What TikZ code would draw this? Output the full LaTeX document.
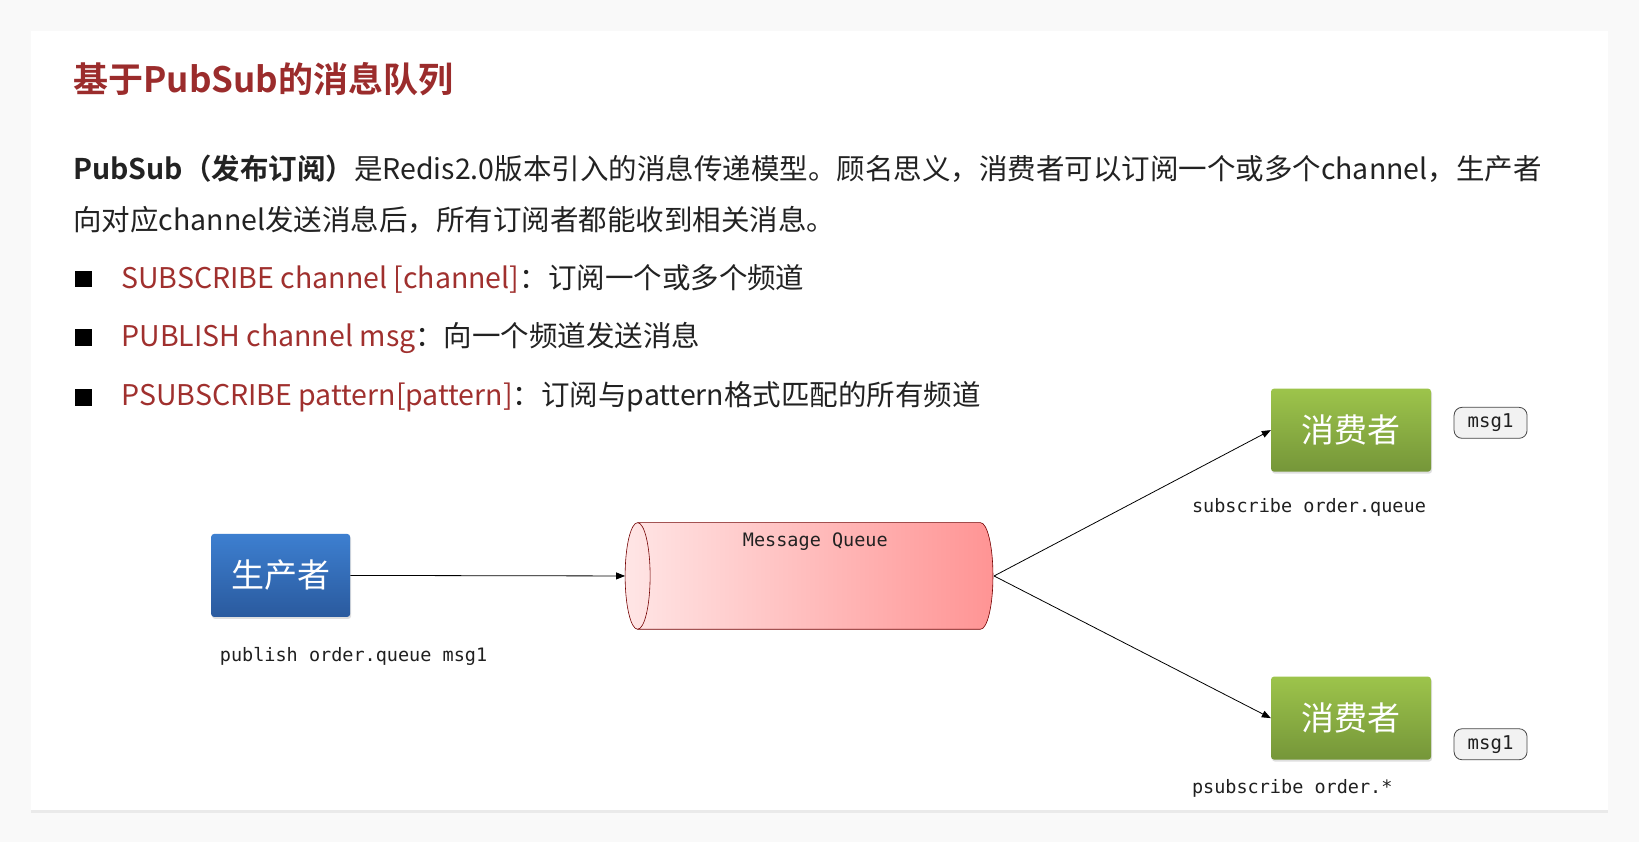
\documentclass[tikz,border=0pt]{standalone}
\usepackage{fontspec}
\setmainfont{Noto Sans CJK SC}
\newfontfamily\cjkbold{Noto Sans CJK SC Bold}
\setmonofont{DejaVu Sans Mono}
\usetikzlibrary{arrows.meta,shadows}
\definecolor{titlered}{HTML}{9B2C2C}
\definecolor{cmdred}{HTML}{A0302E}
\definecolor{txt}{HTML}{222222}
\definecolor{btop}{HTML}{3D7FD0}
\definecolor{bbot}{HTML}{2A5A9E}
\definecolor{gtop}{HTML}{9DC44B}
\definecolor{gbot}{HTML}{759639}
\tikzset{
  box/.style={rounded corners=3pt, minimum height=83pt, text=white, font=\fontsize{33}{33}\selectfont, drop shadow={opacity=0.25,shadow xshift=1pt,shadow yshift=-2pt}},
  prod/.style={box, top color=btop, bottom color=bbot, minimum width=139pt},
  cons/.style={box, top color=gtop, bottom color=gbot, minimum width=160pt},
  pill/.style={draw=gray!55!black, line width=0.8pt, fill=gray!10, rounded corners=8pt, minimum width=73pt, minimum height=31pt, font=\ttfamily\fontsize{19}{19}\selectfont, text=gray!25!black},
  lbl/.style={font=\ttfamily\fontsize{18.5}{18.5}\selectfont, text=gray!25!black, anchor=west},
  para/.style={anchor=west, font=\fontsize{28.5}{28.5}\selectfont, text=txt, inner sep=0},
  arr/.style={-{Triangle[length=9pt,width=7pt]}, line width=0.8pt}
}
\begin{document}
\begin{tikzpicture}[x=1.0453pt,y=-1.0453pt]
\useasboundingbox (0,0) rectangle (1568,805.5);
\fill[gray!5] (0,0) rectangle (1568,805.5);
\fill[white, drop shadow={opacity=0.12,shadow xshift=0pt,shadow yshift=-3pt}] (30,30) rectangle (1538,775);
\node[para, text=titlered, font=\cjkbold\fontsize{35}{35}\selectfont] (title) at (70,76) {基于PubSub的消息队列};
\node[para] (p1) at (70,161) {{\cjkbold PubSub（发布订阅）}是Redis2.0版本引入的消息传递模型。顾名思义，消费者可以订阅一个或多个channel，生产者};
\node[para] (p2) at (70,210) {向对应channel发送消息后，所有订阅者都能收到相关消息。};
\foreach \y/\n in {267/b1,323/b2,380/b3} \fill (72,\y-8) rectangle (88,\y+8);
\node[para] (l1) at (116,267) {\textcolor{cmdred}{SUBSCRIBE channel [channel]}：订阅一个或多个频道};
\node[para] (l2) at (116,323) {\textcolor{cmdred}{PUBLISH channel msg}：向一个频道发送消息};
\node[para] (l3) at (116,380) {\textcolor{cmdred}{PSUBSCRIBE pattern[pattern]}：订阅与pattern格式匹配的所有频道};

\node[prod] (prod) at (268.5,550.5) {生产者};
\node[lbl] (pl) at (207,628) {publish order.queue msg1};

% cylinder
\shade[left color=red!10, right color=red!42, draw=red!45!black, line width=0.6pt]
  (610,500) -- (938,500) arc[start angle=90,end angle=-90,x radius=12.5pt,y radius=53.3pt] -- (610,602)
  arc[start angle=270,end angle=90,x radius=12.5pt,y radius=53.3pt] -- cycle;
\draw[red!45!black, line width=0.6pt] (610,500) arc[start angle=90,end angle=-90,x radius=12.5pt,y radius=53.3pt];
\coordinate (qin) at (598,551);
\coordinate (qout) at (951,551);
\node[font=\ttfamily\fontsize{18.5}{18.5}\selectfont, text=txt] (ql) at (780,518) {Message Queue};

\node[cons] (c1) at (1292.5,411.5) {消费者};
\node[cons] (c2) at (1292.5,687) {消费者};
\node[pill] (m1) at (1426,404.5) {msg1};
\node[pill] (m2) at (1426,712) {msg1};
\node[lbl] (s1) at (1137,485) {subscribe order.queue};
\node[lbl] (s2) at (1137,754) {psubscribe order.*};

\draw[arr] (prod.east) -- (qin);
\draw[arr] (qout) -- (c1.west);
\draw[arr] (qout) -- (c2.west);
\end{tikzpicture}
\end{document}
